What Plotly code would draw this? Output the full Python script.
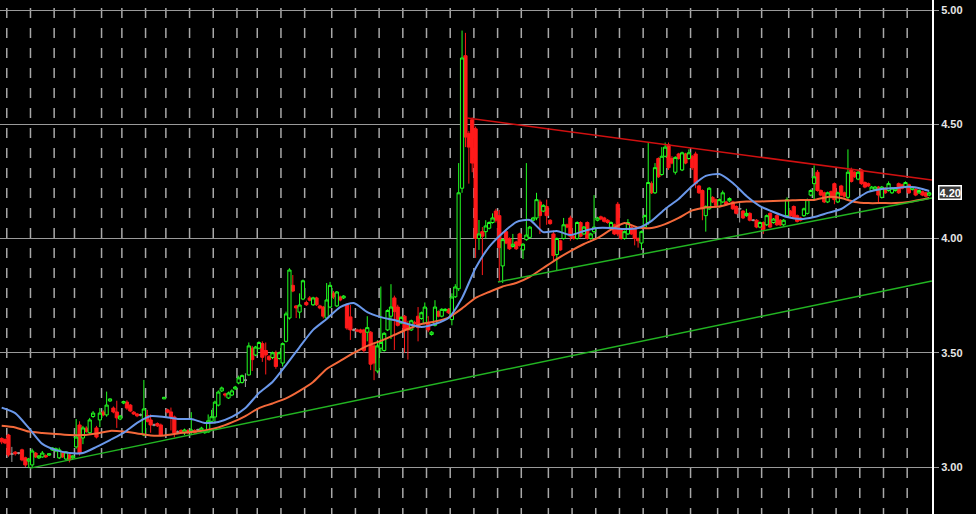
import plotly.graph_objects as go

# ---- OHLC data (hourly bars) ----
open_ = [
    3.125, 3.120, 3.140, 3.057, 3.065, 3.061, 3.075, 3.040, 3.026, 3.009,
    3.061, 3.040, 3.044, 3.050, 3.052, 3.074, 3.070, 3.040, 3.061, 3.035,
    3.053, 3.040, 3.088, 3.184, 3.127, 3.170, 3.150, 3.221, 3.171, 3.206,
    3.240, 3.228, 3.289, 3.258, 3.241, 3.210, 3.280, 3.284, 3.271, 3.240,
    3.232, 3.228, 3.140, 3.225, 3.206, 3.184, 3.190, 3.184, 3.298, 3.250,
    3.241, 3.219, 3.153, 3.160, 3.149, 3.160, 3.153, 3.160, 3.162, 3.160,
    3.150, 3.153, 3.200, 3.219, 3.271, 3.333, 3.320, 3.302, 3.315, 3.342,
    3.368, 3.370, 3.380, 3.403, 3.520, 3.490, 3.520, 3.540, 3.510, 3.484,
    3.479, 3.500, 3.475, 3.455, 3.550, 3.652, 3.795, 3.705, 3.678, 3.735,
    3.720, 3.740, 3.710, 3.740, 3.705, 3.700, 3.652, 3.700, 3.760, 3.705,
    3.744, 3.740, 3.709, 3.657, 3.600, 3.600, 3.600, 3.600, 3.590, 3.590,
    3.530, 3.420, 3.520, 3.510, 3.600, 3.660, 3.740, 3.700, 3.630, 3.660,
    3.620, 3.600, 3.632, 3.660, 3.650, 3.630, 3.630, 3.580, 3.620, 3.680,
    3.660, 3.685, 3.690, 3.645, 3.745, 3.780, 4.220, 4.800, 4.460, 4.520,
    4.480, 4.000, 4.030, 4.030, 4.045, 4.070, 4.120, 4.100, 3.880, 4.030,
    4.000, 3.965, 3.985, 4.020, 3.950, 3.995, 4.005, 4.080, 4.090, 4.160,
    4.120, 4.140, 4.080, 4.020, 3.930, 3.990, 4.000, 4.060, 4.090, 4.010,
    4.000, 4.070, 4.020, 4.070, 4.000, 4.030, 4.080, 4.095, 4.090, 4.080,
    4.050, 4.060, 4.150, 4.040, 4.000, 4.020, 4.050, 4.040, 4.000, 3.980,
    4.050, 4.070, 4.240, 4.200, 4.350, 4.280, 4.360, 4.410, 4.350, 4.290,
    4.370, 4.300, 4.370, 4.350, 4.360, 4.370, 4.230, 4.210, 4.100, 4.130,
    4.180, 4.170, 4.140, 4.160, 4.160, 4.165, 4.160, 4.140, 4.130, 4.120,
    4.100, 4.110, 4.080, 4.080, 4.050, 4.070, 4.060, 4.110, 4.070, 4.100,
    4.080, 4.060, 4.100, 4.120, 4.140, 4.100, 4.090, 4.100, 4.110, 4.190,
    4.240, 4.290, 4.210, 4.200, 4.160, 4.205, 4.240, 4.160, 4.230, 4.200,
    4.180, 4.300, 4.290, 4.260, 4.300, 4.245, 4.240, 4.210, 4.215, 4.225,
    4.180, 4.220, 4.210, 4.200, 4.210, 4.240, 4.235, 4.225, 4.235, 4.215,
    4.215, 4.200, 4.205, 4.200, 4.190,
]
high = [
    3.130, 3.125, 3.145, 3.088, 3.070, 3.065, 3.080, 3.045, 3.040, 3.080,
    3.065, 3.052, 3.070, 3.055, 3.060, 3.086, 3.085, 3.085, 3.066, 3.070,
    3.058, 3.052, 3.210, 3.200, 3.180, 3.178, 3.215, 3.245, 3.180, 3.258,
    3.248, 3.330, 3.300, 3.265, 3.290, 3.228, 3.290, 3.292, 3.276, 3.245,
    3.236, 3.234, 3.381, 3.250, 3.230, 3.190, 3.195, 3.190, 3.305, 3.255,
    3.260, 3.225, 3.160, 3.165, 3.168, 3.165, 3.240, 3.165, 3.168, 3.176,
    3.162, 3.230, 3.250, 3.290, 3.335, 3.352, 3.325, 3.330, 3.340, 3.355,
    3.400, 3.405, 3.410, 3.545, 3.530, 3.530, 3.550, 3.550, 3.545, 3.490,
    3.505, 3.510, 3.505, 3.545, 3.680, 3.870, 3.840, 3.709, 3.760, 3.820,
    3.728, 3.748, 3.745, 3.745, 3.710, 3.705, 3.805, 3.810, 3.770, 3.770,
    3.750, 3.752, 3.715, 3.709, 3.606, 3.605, 3.605, 3.605, 3.660, 3.595,
    3.545, 3.555, 3.790, 3.590, 3.690, 3.800, 3.750, 3.710, 3.660, 3.665,
    3.640, 3.645, 3.640, 3.700, 3.680, 3.720, 3.660, 3.595, 3.730, 3.685,
    3.695, 3.695, 3.695, 3.760, 3.800, 4.330, 4.910, 4.900, 4.470, 4.530,
    4.490, 4.081, 4.050, 4.080, 4.075, 4.110, 4.130, 4.125, 4.000, 4.040,
    4.005, 4.020, 3.990, 4.025, 3.980, 4.330, 4.055, 4.095, 4.200, 4.170,
    4.150, 4.170, 4.085, 4.035, 4.005, 3.995, 4.090, 4.065, 4.100, 4.015,
    4.075, 4.075, 4.055, 4.075, 4.025, 4.190, 4.095, 4.100, 4.095, 4.085,
    4.075, 4.065, 4.160, 4.045, 4.035, 4.085, 4.055, 4.045, 4.005, 4.035,
    4.105, 4.420, 4.250, 4.330, 4.355, 4.400, 4.420, 4.420, 4.360, 4.360,
    4.375, 4.380, 4.375, 4.390, 4.365, 4.380, 4.235, 4.215, 4.145, 4.225,
    4.185, 4.175, 4.175, 4.210, 4.165, 4.180, 4.165, 4.145, 4.155, 4.125,
    4.130, 4.115, 4.085, 4.085, 4.075, 4.075, 4.105, 4.115, 4.090, 4.105,
    4.085, 4.085, 4.180, 4.125, 4.145, 4.105, 4.095, 4.135, 4.175, 4.215,
    4.320, 4.300, 4.215, 4.205, 4.205, 4.210, 4.245, 4.205, 4.235, 4.205,
    4.390, 4.310, 4.295, 4.295, 4.305, 4.250, 4.245, 4.230, 4.230, 4.230,
    4.230, 4.225, 4.250, 4.225, 4.225, 4.245, 4.240, 4.250, 4.240, 4.230,
    4.220, 4.215, 4.210, 4.205, 4.205,
]
low = [
    3.100, 3.100, 3.045, 3.022, 3.050, 3.055, 3.025, 3.000, 2.995, 3.000,
    3.040, 3.035, 3.040, 3.040, 3.048, 3.070, 3.065, 3.035, 3.040, 3.030,
    3.020, 3.035, 3.080, 3.050, 3.100, 3.150, 3.145, 3.215, 3.125, 3.175,
    3.222, 3.220, 3.285, 3.235, 3.171, 3.205, 3.275, 3.250, 3.240, 3.228,
    3.218, 3.222, 3.135, 3.195, 3.150, 3.178, 3.175, 3.135, 3.298, 3.235,
    3.160, 3.130, 3.145, 3.148, 3.140, 3.145, 3.140, 3.145, 3.155, 3.155,
    3.145, 3.150, 3.195, 3.190, 3.265, 3.328, 3.305, 3.298, 3.310, 3.338,
    3.362, 3.365, 3.350, 3.400, 3.420, 3.485, 3.515, 3.460, 3.405, 3.465,
    3.472, 3.430, 3.470, 3.440, 3.545, 3.645, 3.765, 3.652, 3.650, 3.730,
    3.705, 3.725, 3.705, 3.705, 3.690, 3.650, 3.650, 3.695, 3.735, 3.700,
    3.725, 3.735, 3.600, 3.556, 3.594, 3.590, 3.585, 3.500, 3.550, 3.424,
    3.380, 3.410, 3.500, 3.505, 3.595, 3.560, 3.512, 3.615, 3.625, 3.500,
    3.470, 3.595, 3.622, 3.550, 3.645, 3.625, 3.590, 3.575, 3.615, 3.655,
    3.655, 3.680, 3.670, 3.620, 3.740, 3.770, 4.200, 4.400, 4.240, 4.290,
    3.915, 3.950, 3.840, 4.000, 4.040, 4.065, 4.070, 3.810, 3.805, 3.975,
    3.950, 3.960, 3.950, 3.965, 3.910, 3.990, 4.000, 4.075, 4.080, 4.020,
    4.115, 4.060, 4.060, 3.900, 3.860, 3.945, 3.995, 4.045, 3.990, 3.995,
    3.995, 4.005, 4.015, 3.995, 3.995, 4.020, 4.075, 4.080, 4.070, 4.065,
    4.045, 4.015, 4.010, 3.995, 3.995, 4.015, 4.015, 3.970, 3.960, 3.950,
    4.045, 4.060, 4.195, 4.195, 4.265, 4.275, 4.355, 4.300, 4.325, 4.280,
    4.345, 4.295, 4.325, 4.345, 4.300, 4.220, 4.195, 4.080, 4.030, 4.125,
    4.155, 4.140, 4.135, 4.155, 4.145, 4.160, 4.125, 4.105, 4.070, 4.085,
    4.095, 4.075, 4.075, 4.045, 4.045, 4.020, 4.055, 4.045, 4.065, 4.055,
    4.055, 4.055, 4.095, 4.095, 4.085, 4.070, 4.075, 4.095, 4.105, 4.185,
    4.170, 4.205, 4.185, 4.155, 4.155, 4.175, 4.150, 4.155, 4.185, 4.180,
    4.170, 4.245, 4.265, 4.255, 4.235, 4.220, 4.225, 4.205, 4.210, 4.160,
    4.175, 4.195, 4.205, 4.195, 4.205, 4.195, 4.215, 4.220, 4.195, 4.210,
    4.185, 4.195, 4.185, 4.180, 4.185,
]
close = [
    3.110, 3.105, 3.053, 3.057, 3.058, 3.061, 3.031, 3.009, 3.035, 3.070,
    3.044, 3.048, 3.061, 3.044, 3.058, 3.083, 3.080, 3.075, 3.044, 3.066,
    3.031, 3.048, 3.131, 3.061, 3.171, 3.155, 3.206, 3.236, 3.131, 3.236,
    3.228, 3.271, 3.298, 3.241, 3.215, 3.223, 3.286, 3.258, 3.245, 3.232,
    3.224, 3.228, 3.254, 3.200, 3.184, 3.184, 3.180, 3.140, 3.305, 3.240,
    3.219, 3.149, 3.153, 3.153, 3.162, 3.150, 3.162, 3.150, 3.162, 3.170,
    3.158, 3.202, 3.220, 3.284, 3.328, 3.346, 3.315, 3.324, 3.333, 3.350,
    3.390, 3.400, 3.380, 3.530, 3.470, 3.525, 3.545, 3.480, 3.490, 3.470,
    3.500, 3.440, 3.500, 3.540, 3.670, 3.862, 3.770, 3.696, 3.709, 3.815,
    3.710, 3.730, 3.740, 3.710, 3.696, 3.660, 3.731, 3.795, 3.745, 3.766,
    3.731, 3.748, 3.608, 3.600, 3.600, 3.595, 3.590, 3.510, 3.610, 3.450,
    3.455, 3.530, 3.545, 3.585, 3.685, 3.700, 3.680, 3.620, 3.655, 3.600,
    3.600, 3.640, 3.628, 3.610, 3.675, 3.700, 3.600, 3.590, 3.700, 3.660,
    3.690, 3.690, 3.675, 3.744, 3.788, 4.200, 4.790, 4.444, 4.400, 4.330,
    4.000, 4.020, 4.010, 4.055, 4.070, 4.090, 4.080, 3.960, 3.995, 3.980,
    3.955, 3.975, 3.955, 3.970, 3.975, 4.015, 4.050, 4.090, 4.170, 4.100,
    4.145, 4.100, 4.065, 3.925, 4.000, 3.950, 4.060, 4.050, 4.010, 4.000,
    4.070, 4.010, 4.050, 4.000, 4.020, 4.050, 4.090, 4.085, 4.075, 4.070,
    4.070, 4.020, 4.020, 4.000, 4.030, 4.070, 4.020, 4.000, 3.990, 4.030,
    4.100, 4.245, 4.200, 4.310, 4.270, 4.360, 4.400, 4.310, 4.330, 4.355,
    4.350, 4.375, 4.330, 4.375, 4.310, 4.240, 4.200, 4.130, 4.140, 4.220,
    4.160, 4.145, 4.170, 4.200, 4.150, 4.175, 4.130, 4.110, 4.130, 4.090,
    4.110, 4.080, 4.080, 4.050, 4.070, 4.040, 4.100, 4.050, 4.085, 4.060,
    4.060, 4.080, 4.170, 4.100, 4.090, 4.075, 4.080, 4.130, 4.170, 4.210,
    4.270, 4.210, 4.190, 4.160, 4.200, 4.180, 4.170, 4.200, 4.190, 4.185,
    4.290, 4.250, 4.270, 4.290, 4.240, 4.225, 4.230, 4.225, 4.225, 4.190,
    4.225, 4.200, 4.240, 4.220, 4.220, 4.200, 4.220, 4.245, 4.200, 4.225,
    4.190, 4.210, 4.190, 4.185, 4.200,
]

# first bar of each trading session (vertical dashed separators)
session_starts = [2, 9, 16, 22, 30, 36, 43, 49, 56, 63, 70, 76, 83, 90, 98,
                  105, 112, 119, 126, 133, 140, 147, 154, 162, 169, 176, 183,
                  190, 197, 204, 212, 218, 225, 233, 240, 247, 254, 261, 268]

# moving averages, sampled every 4th bar (plus last bar)
ma_bars = list(range(0, 273, 4)) + [274]
ma_fast = [3.260, 3.236, 3.171, 3.101, 3.074, 3.061, 3.061, 3.088, 3.118, 3.149,
           3.193, 3.223, 3.219, 3.210, 3.210, 3.193, 3.197, 3.219, 3.258, 3.324,
           3.372, 3.446, 3.525, 3.600, 3.648, 3.700, 3.718, 3.678, 3.656, 3.643,
           3.626, 3.613, 3.626, 3.652, 3.740, 3.871, 3.963, 4.024, 4.072, 4.081,
           4.028, 4.033, 4.015, 4.033, 4.046, 4.046, 4.042, 4.046, 4.077, 4.129,
           4.173, 4.230, 4.274, 4.282, 4.243, 4.186, 4.142, 4.116, 4.094, 4.085,
           4.094, 4.112, 4.129, 4.169, 4.204, 4.217, 4.221, 4.226, 4.217, 4.208]
ma_slow = [3.180, 3.173, 3.155, 3.149, 3.144, 3.140, 3.140, 3.147, 3.158, 3.155,
           3.147, 3.138, 3.138, 3.147, 3.153, 3.160, 3.173, 3.195, 3.223, 3.258,
           3.278, 3.300, 3.333, 3.372, 3.429, 3.464, 3.499, 3.530, 3.552, 3.578,
           3.604, 3.626, 3.637, 3.654, 3.694, 3.740, 3.766, 3.790, 3.805, 3.832,
           3.871, 3.910, 3.945, 3.976, 4.002, 4.039, 4.068, 4.048, 4.046, 4.063,
           4.090, 4.123, 4.136, 4.140, 4.155, 4.162, 4.162, 4.164, 4.166, 4.169,
           4.169, 4.182, 4.177, 4.160, 4.155, 4.155, 4.155, 4.160, 4.171, 4.177]

# trend lines (bar, price) anchors
trend_red_x, trend_red_y = [137.5, 274.8], [4.527, 4.256]
trend_up_x, trend_up_y = [146.6, 274.8], [3.810, 4.177]
trend_low_x, trend_low_y = [8.4, 274.8], [2.995, 3.814]

y_ticks = [3.00, 3.50, 4.00, 4.50, 5.00]
last_price = 4.20

# ---- build figure ----
n = len(close)
up = [i for i in range(n) if close[i] > open_[i]]
down = [i for i in range(n) if close[i] < open_[i]]
flat = [i for i in range(n) if close[i] == open_[i]]


def candles(sel, line_color, fill_color):
    style = dict(line=dict(color=line_color, width=1), fillcolor=fill_color)
    return go.Candlestick(
        x=sel,
        open=[open_[i] for i in sel], high=[high[i] for i in sel],
        low=[low[i] for i in sel], close=[close[i] for i in sel],
        increasing=style, decreasing=style, whiskerwidth=0,
        showlegend=False, hoverinfo="skip")


fig = go.Figure()
fig.add_trace(candles(flat, "#9a9a9a", "#9a9a9a"))
fig.add_trace(candles(down, "#ff1a1a", "#ff1a1a"))
fig.add_trace(candles(up, "#22ff22", "#000000"))

fig.add_trace(go.Scatter(x=ma_bars, y=ma_slow, mode="lines",
                         line=dict(color="#f4693a", width=2, shape="spline", smoothing=0.6),
                         showlegend=False, hoverinfo="skip"))
fig.add_trace(go.Scatter(x=ma_bars, y=ma_fast, mode="lines",
                         line=dict(color="#6a98ea", width=2, shape="spline", smoothing=0.6),
                         showlegend=False, hoverinfo="skip"))

for tx, ty, col in [(trend_red_x, trend_red_y, "#d01010"),
                    (trend_up_x, trend_up_y, "#22b422"),
                    (trend_low_x, trend_low_y, "#22b422")]:
    fig.add_trace(go.Scatter(x=tx, y=ty, mode="lines",
                             line=dict(color=col, width=1.5),
                             showlegend=False, hoverinfo="skip"))

shapes = []
for b in session_starts:
    shapes.append(dict(type="line", xref="x", yref="paper",
                       x0=b - 0.5, x1=b - 0.5, y0=1 + 12 / 514, y1=0,
                       line=dict(color="#a8a8a8", width=1.5, dash="10px,10px"),
                       layer="below"))

fig.update_layout(
    width=976, height=514,
    margin=dict(l=0, r=44, t=0, b=0, pad=0),
    paper_bgcolor="#000000", plot_bgcolor="#000000",
    showlegend=False,
    boxgap=0.0, boxgroupgap=0.05,
    shapes=shapes,
    xaxis=dict(range=[-0.5, 274.83], visible=False,
               rangeslider=dict(visible=False), showgrid=False, zeroline=False),
    yaxis=dict(side="right", range=[2.7943, 5.0438],
               tickvals=y_ticks, ticktext=["<b>%.2f</b>" % v for v in y_ticks],
               showgrid=True, gridcolor="#9a9a9a", gridwidth=1,
               zeroline=False, showline=True, linecolor="#ffffff", linewidth=2,
               ticks="outside", ticklen=5, tickwidth=1, tickcolor="#9a9a9a",
               tickfont=dict(color="#e6e6e6", size=11, family="Liberation Sans, Arial")),
    annotations=[dict(xref="paper", x=1, xanchor="left", xshift=6,
                      yref="y", y=last_price, yanchor="middle",
                      text="<b>%.2f</b>" % last_price, showarrow=False,
                      font=dict(color="#ffffff", size=11, family="Liberation Sans, Arial"),
                      bgcolor="#3a3a3a", bordercolor="#ffffff", borderwidth=1.5,
                      borderpad=0)],
)

fig.write_html("out.html", config={"displayModeBar": False},
               post_script="document.body.style.margin='0';document.body.style.overflow='hidden';")
